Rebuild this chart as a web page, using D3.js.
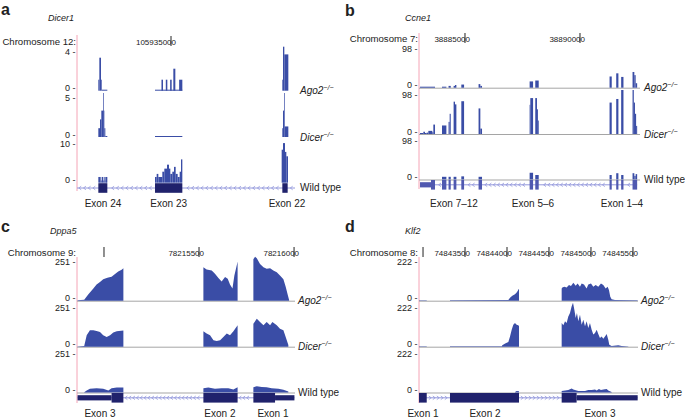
<!DOCTYPE html>
<html><head><meta charset="utf-8">
<script src="https://cdn.jsdelivr.net/npm/d3@7"></script>
<style>
body{margin:0;background:#fff}
svg{display:block}
text{font-family:"Liberation Sans",Arial,Helvetica,sans-serif;fill:#222}
</style>
</head><body>
<svg id="chart" width="685" height="419"></svg>
<script>
// ---------------- DATA ----------------
const sampleNames = ["Ago2", "Dicer", "Wild type"];

// Panel a: Dicer1 (chr12) — step coverage [start, end, value]
const dicer1Domain = [105933590, 105936860];
const dicer1Ticks = [105935000];
const dicer1TickLabels = ["105935000"];
const dicer1Max = [4, 5, 10];
const dicer1Ago2 = [[105933910,105933925,1],[105933925,105933950,3],[105933950,105933960,1],[105933960,105934045,0],
  [105934760,105935170,0],[105934857,105934880,1],[105934922,105934945,1],[105934987,105935010,1],[105935035,105935065,2],[105935122,105935170,1],
  [105936670,105936680,1],[105936680,105936700,4],[105936700,105936760,3.3]];
const dicer1Dicer = [[105933910,105933935,1],[105933935,105933955,2],[105933955,105933980,3],[105933980,105933985,5],[105933985,105934000,3],[105934000,105934015,1],[105934015,105934045,0],
  [105934760,105935170,0],
  [105936670,105936680,1],[105936680,105936695,3],[105936695,105936705,5],[105936705,105936760,1.2]];
const dicer1WT = [[105933910,105933945,1.3],[105933945,105933960,0.5],[105933960,105933985,1.3],[105933985,105934000,0.5],[105934000,105934020,1.3],[105934020,105934025,0.5],[105934025,105934045,1.3],
  [105934760,105934785,1.3],[105934785,105934810,2],[105934810,105934870,1.3],[105934870,105934900,2.5],[105934900,105934940,3.2],[105934940,105934970,4.1],[105934970,105934990,3.2],[105934990,105935020,2],[105935020,105935045,2.5],[105935045,105935070,3.6],[105935070,105935100,2],[105935100,105935130,1.3],[105935130,105935150,2.5],[105935150,105935170,5.3],
  [105936660,105936680,7.5],[105936680,105936710,9],[105936710,105936730,7],[105936730,105936755,6]];
const dicer1Exons = [[105933910,105934045],[105934760,105935170],[105936670,105936750]];
const dicer1Utr = [];
const dicer1Span = [105933500, 105937000];
const dicer1ExonNames = ["Exon 24", "Exon 23", "Exon 22"];
const dicer1ExonPos = [105933980, 105934965, 105936740];

// Panel b: Ccne1 (chr7) — step coverage
const ccne1Domain = [38883000, 38892609];
const ccne1Ticks = [38885000, 38890000];
const ccne1TickLabels = ["38885000", "38890000"];
const ccne1Max = [98, 98, 98];
const ccne1Ago2 = [[38883044,38883479,1],[38883479,38883696,2],[38884000,38884190,2],[38884285,38884380,4],[38884505,38884565,4],[38884565,38884625,6],
  [38884840,38884960,7],[38885590,38885667,8],[38885667,38885740,4],[38887810,38887960,14],[38888055,38888205,16],
  [38891285,38891380,25],[38891575,38891670,32],[38891790,38891890,24],[38892285,38892362,35],[38892362,38892420,28],[38892420,38892485,10]];
const ccne1Dicer = [[38883044,38883188,2],[38883188,38883261,5],[38883261,38883333,2],[38883333,38883406,3],[38883406,38883478,7],[38883478,38883580,7],[38883580,38883623,4],[38883623,38883696,21],
  [38884000,38884190,19],[38884285,38884333,27],[38884333,38884380,45],[38884505,38884565,72],[38884565,38884625,66],[38884840,38884960,73],
  [38885590,38885667,57],[38885667,38885740,12],[38887810,38887840,65],[38887840,38887960,80],[38888055,38888130,80],[38888130,38888170,55],[38888170,38888205,30],
  [38891285,38891380,70],[38891575,38891670,78],[38891790,38891890,98],[38892285,38892340,98],[38892340,38892390,70],[38892390,38892440,45],[38892440,38892485,18]];
const ccne1WT = [[38884000,38884190,6],[38884285,38884380,6],[38884505,38884625,6],[38884840,38884960,7],[38885590,38885740,6],[38887810,38887960,15],[38888055,38888205,10],
  [38891285,38891380,10],[38891575,38891670,14],[38891790,38891890,10],[38892285,38892362,14],[38892362,38892420,8],[38892420,38892485,12]];
const ccne1Exons = [[38883522,38883696],[38884000,38884190],[38884285,38884380],[38884505,38884625],[38884840,38884960],[38885590,38885740],
  [38887810,38887960],[38888055,38888205],[38891285,38891380],[38891575,38891670],[38891790,38891890],[38892285,38892485]];
const ccne1Utr = [[38883044,38883522]];
const ccne1Span = [38883044, 38892485];
const ccne1ExonNames = ["Exon 7\u201312", "Exon 5\u20136", "Exon 1\u20134"];
const ccne1ExonPos = [38884522, 38887957, 38891826];

// Panel c: Dppa5 (chr9) — profile coverage [position, value]
const dppa5Domain = [78214858, 78216005];
const dppa5Ticks = [78215000, 78215500, 78216000];
const dppa5TickLabels = ["", "78215500", "78216000"];
const dppa5Max = [251, 251, 251];
const dppa5Ago2 = [
  [[78214861,2],[78214896,6],[78214917,36],[78214944,69],[78214961,92],[78214979,107],[78214996,122],[78215014,129],[78215023,133],[78215040,137],[78215058,152],[78215075,167],[78215093,176],[78215102,185]],
  [[78215523,191],[78215540,178],[78215567,172],[78215584,154],[78215602,129],[78215619,110],[78215637,135],[78215651,125],[78215663,92],[78215676,69],[78215686,144],[78215698,200],[78215703,223]],
  [[78215786,237],[78215795,251],[78215804,242],[78215821,210],[78215839,191],[78215856,182],[78215874,185],[78215891,172],[78215909,163],[78215926,144],[78215944,122],[78215956,79],[78215967,32],[78215974,4]]];
const dppa5Dicer = [
  [[78214861,1],[78214896,4],[78214909,66],[78214926,94],[78214944,94],[78214961,90],[78214979,84],[78214996,66],[78215014,56],[78215032,66],[78215049,81],[78215067,88],[78215102,92]],
  [[78215523,88],[78215540,75],[78215558,66],[78215576,37],[78215593,32],[78215611,37],[78215628,56],[78215646,75],[78215663,66],[78215681,88],[78215703,122]],
  [[78215786,131],[78215804,159],[78215821,141],[78215839,122],[78215856,141],[78215874,122],[78215886,141],[78215909,122],[78215926,103],[78215944,94],[78215956,56],[78215970,9]]];
const dppa5WT = [
  [[78214896,2],[78214909,11],[78214926,21],[78214961,24],[78214996,21],[78215023,11],[78215040,24],[78215067,28],[78215102,28]],
  [[78215523,24],[78215549,28],[78215584,21],[78215619,24],[78215654,24],[78215681,17],[78215703,30]],
  [[78215786,30],[78215804,36],[78215830,32],[78215856,30],[78215882,24],[78215918,21],[78215944,15],[78215970,6]]];
const dppa5Exons = [[78215040,78215102],[78215523,78215703],[78215786,78215900]];
const dppa5Utr = [[78214861,78215040],[78215900,78216002]];
const dppa5Span = [78214861, 78216002];
const dppa5ExonNames = ["Exon 3", "Exon 2", "Exon 1"];
const dppa5ExonPos = [78214979, 78215610, 78215889];

// Panel d: Klf2 (chr8) — profile coverage
const klf2Domain = [74842952, 74845560];
const klf2Ticks = [74843000, 74843500, 74844000, 74844500, 74845000, 74845500];
const klf2TickLabels = ["", "74843500", "74844000", "74844500", "74845000", "74845500"];
const klf2Max = [222, 222, 222];
const klf2Ago2 = [
  [[74842952,2],[74843044,2]],
  [[74843321,2],[74844016,3],[74844036,15],[74844063,25],[74844095,32],[74844115,42],[74844127,49],[74844135,57],[74844143,59]],
  [[74844651,62],[74844659,66],[74844683,71],[74844710,67],[74844738,79],[74844762,74],[74844790,91],[74844818,76],[74844841,87],[74844869,71],[74844889,87],[74844917,82],[74844948,62],[74844968,82],[74845000,87],[74845028,71],[74845056,79],[74845087,71],[74845119,87],[74845147,79],[74845175,62],[74845198,71],[74845214,54],[74845230,20],[74845246,7],[74845286,3],[74845556,2]]];
const klf2Dicer = [
  [[74842952,2],[74843044,2]],
  [[74843321,2],[74843937,2],[74843944,7],[74843968,13],[74843984,17],[74844016,24],[74844036,52],[74844056,86],[74844075,111],[74844095,119],[74844115,111],[74844135,108],[74844143,103]],
  [[74844651,119],[74844671,108],[74844691,128],[74844710,119],[74844730,153],[74844750,170],[74844770,204],[74844786,222],[74844802,187],[74844818,145],[74844833,170],[74844849,128],[74844869,161],[74844889,111],[74844909,136],[74844929,103],[74844948,128],[74844968,94],[74844988,119],[74845008,86],[74845028,61],[74845048,69],[74845068,86],[74845087,64],[74845107,44],[74845127,52],[74845147,40],[74845167,52],[74845187,64],[74845206,35],[74845218,10],[74845246,3],[74845325,7],[74845365,3],[74845445,1]]];
const klf2WT = [
  [[74844095,3],[74844115,8],[74844143,6]],
  [[74844651,7],[74844691,10],[74844730,13],[74844770,20],[74844790,15],[74844829,10],[74844849,7],[74844889,8],[74844929,7],[74844968,13],[74845008,12],[74845048,15],[74845068,10],[74845095,18],[74845119,12],[74845147,15],[74845187,18],[74845206,10],[74845246,3]]];
const klf2Exons = [[74842952,74843044],[74843321,74844143],[74844651,74844829]];
const klf2Utr = [[74844829,74845556]];
const klf2Span = [74842952, 74845556];
const klf2ExonNames = ["Exon 1", "Exon 2", "Exon 3"];
const klf2ExonPos = [74843000, 74843738, 74845107];

// ---------------- LAYOUT / STYLE ----------------
const COV = "#3a4da6", NAVY = "#20226c", INTRON = "#9398dc", GRID = "#a5a5a5", PINK = "#f5a4b6";
const TRACK_H = 44;

const panels = [
  {letter:"a", gene:"Dicer1", chrom:"Chromosome 12:", kind:"step", strand:-1,
   domain:dicer1Domain, ticks:dicer1Ticks, tickLabels:dicer1TickLabels, maxes:dicer1Max,
   tracks:[dicer1Ago2, dicer1Dicer, dicer1WT], exons:dicer1Exons, utr:dicer1Utr, span:dicer1Span,
   exonNames:dicer1ExonNames, exonPos:dicer1ExonPos,
   L:{x0:77, x1:295, base:[90.7,137,182.7], pink:[35,191], letter:[1,14.5], geneXY:[48,21], chromY:45,
      labX:300, wtDy:8.5, exonY:207, grid:false, geneCol:NAVY, arrowStep:4.7}},
  {letter:"b", gene:"Ccne1", chrom:"Chromosome 7:", kind:"step", strand:-1,
   domain:ccne1Domain, ticks:ccne1Ticks, tickLabels:ccne1TickLabels, maxes:ccne1Max,
   tracks:[ccne1Ago2, ccne1Dicer, ccne1WT], exons:ccne1Exons, utr:ccne1Utr, span:ccne1Span,
   exonNames:ccne1ExonNames, exonPos:ccne1ExonPos,
   L:{x0:419, x1:640, base:[87.7,134,179.5], pink:[33,189], letter:[345,15.5], geneXY:[405,21], chromY:42,
      labX:644, wtDy:3.5, exonY:206.5, grid:true, geneCol:"#5059b0", arrowStep:4.2}},
  {letter:"c", gene:"Dppa5", chrom:"Chromosome 9:", kind:"area", strand:-1,
   domain:dppa5Domain, ticks:dppa5Ticks, tickLabels:dppa5TickLabels, maxes:dppa5Max,
   tracks:[dppa5Ago2, dppa5Dicer, dppa5WT], exons:dppa5Exons, utr:dppa5Utr, span:dppa5Span,
   exonNames:dppa5ExonNames, exonPos:dppa5ExonPos,
   L:{x0:77, x1:295, base:[300.7,346.7,392.5], pink:[257,403], letter:[1,232], geneXY:[50,234], chromY:256,
      labX:298, wtDy:3.5, exonY:417, grid:true, geneCol:NAVY, arrowStep:3.8}},
  {letter:"d", gene:"Klf2", chrom:"Chromosome 8:", kind:"area", strand:1,
   domain:klf2Domain, ticks:klf2Ticks, tickLabels:klf2TickLabels, maxes:klf2Max,
   tracks:[klf2Ago2, klf2Dicer, klf2WT], exons:klf2Exons, utr:klf2Utr, span:klf2Span,
   exonNames:klf2ExonNames, exonPos:klf2ExonPos,
   L:{x0:419, x1:638, base:[300.7,346.7,392.5], pink:[257,403], letter:[345,232], geneXY:[405,234], chromY:256,
      labX:641, wtDy:3.5, exonY:417, grid:true, geneCol:NAVY, arrowStep:4}}
];

const svg = d3.select("#chart");
svg.append("rect").attr("width",685).attr("height",419).attr("fill","#fff");

panels.forEach(p => {
  const L = p.L;
  const g = svg.append("g");
  const xs = d3.scaleLinear().domain(p.domain).range([L.x0, L.x1]).clamp(true);

  // panel letter and gene name
  g.append("text").attr("x", L.letter[0]).attr("y", L.letter[1]).attr("font-size", 16).attr("font-weight", "bold").text(p.letter);
  g.append("text").attr("x", L.geneXY[0]).attr("y", L.geneXY[1]).attr("font-size", 9).attr("font-style", "italic").text(p.gene);

  // base position ruler
  g.append("text").attr("x", L.x0 - 1).attr("y", L.chromY).attr("font-size", 9.6).attr("text-anchor", "end").text(p.chrom);
  p.ticks.forEach((t, i) => {
    const tx = xs(t);
    g.append("line").attr("x1", tx).attr("x2", tx).attr("y1", L.chromY - 9).attr("y2", L.chromY + 1)
      .attr("stroke", "#222").attr("stroke-width", 1);
    if (p.tickLabels[i]) g.append("text").attr("x", tx + 5).attr("y", L.chromY).attr("font-size", 8)
      .attr("text-anchor", "end").text(p.tickLabels[i]);
  });

  // pink left border
  g.append("line").attr("x1", L.x0).attr("x2", L.x0).attr("y1", L.pink[0]).attr("y2", L.pink[1])
    .attr("stroke", PINK).attr("stroke-width", 1);

  p.tracks.forEach((tr, i) => {
    const base = L.base[i];
    const ys = d3.scaleLinear().domain([0, p.maxes[i]]).range([base, base - TRACK_H]).clamp(true);
    if (L.grid) {
      g.append("line").attr("x1", L.x0).attr("x2", L.x1).attr("y1", base + 0.5).attr("y2", base + 0.5)
        .attr("stroke", GRID).attr("stroke-width", 1);
    }
    if (p.kind === "step") {
      g.append("g").selectAll("rect").data(tr).join("rect")
        .attr("x", d => xs(d[0]))
        .attr("width", d => Math.max(xs(d[1]) - xs(d[0]), 0.7))
        .attr("y", d => Math.min(ys(d[2]), base - 1))
        .attr("height", d => Math.max(base - ys(d[2]), 1))
        .attr("fill", COV);
    } else {
      const area = d3.area().x(d => xs(d[0])).y0(base).y1(d => ys(d[1]));
      g.append("g").selectAll("path").data(tr).join("path").attr("d", area).attr("fill", COV);
    }
    // y labels
    g.append("text").attr("x", L.x0 - 1.5).attr("y", ys(p.maxes[i]) + 8).attr("font-size", 9)
      .attr("text-anchor", "end").text(p.maxes[i] + " -");
    g.append("text").attr("x", L.x0 - 1.5).attr("y", base + 0.5).attr("font-size", 9)
      .attr("text-anchor", "end").text("0 -");
    // sample labels
    if (i < 2) {
      const t = g.append("text").attr("x", L.labX).attr("y", base + 3.5).attr("font-size", 10).attr("font-style", "italic");
      t.append("tspan").text(sampleNames[i]);
      t.append("tspan").attr("dy", -4).attr("font-size", 7).text("\u2212/\u2212");
    } else {
      g.append("text").attr("x", L.labX).attr("y", base + L.wtDy).attr("font-size", 10).text(sampleNames[i]);
    }
  });

  // gene model
  const wtBase = L.base[2];
  const cy = wtBase + 5.3;
  const sx0 = xs(p.span[0]), sx1 = xs(p.span[1]);
  g.append("line").attr("x1", sx0).attr("x2", sx1).attr("y1", cy).attr("y2", cy)
    .attr("stroke", INTRON).attr("stroke-width", 1);
  const blocks = p.exons.concat(p.utr).map(b => [xs(b[0]), xs(b[1])]);
  const arrowXs = d3.range(sx0 + 3, sx1 - 2, L.arrowStep)
    .filter(x => !blocks.some(b => x > b[0] - 2 && x < b[1] + 2));
  const s = p.strand;
  g.append("g").selectAll("path").data(arrowXs).join("path")
    .attr("d", x => `M${x - 1.2 * s},${cy - 1.8}L${x + 1.2 * s},${cy}L${x - 1.2 * s},${cy + 1.8}`)
    .attr("fill", "none").attr("stroke", INTRON).attr("stroke-width", 0.8);
  g.append("g").selectAll("rect").data(p.utr).join("rect")
    .attr("x", d => xs(d[0])).attr("width", d => xs(d[1]) - xs(d[0]))
    .attr("y", cy - 2.6).attr("height", 5.2).attr("fill", L.geneCol);
  g.append("g").selectAll("rect").data(p.exons).join("rect")
    .attr("x", d => xs(d[0])).attr("width", d => Math.max(xs(d[1]) - xs(d[0]), 1))
    .attr("y", cy - 4.8).attr("height", 9.6).attr("fill", L.geneCol);

  // exon labels
  p.exonNames.forEach((n, i) => {
    g.append("text").attr("x", xs(p.exonPos[i])).attr("y", L.exonY).attr("font-size", 10)
      .attr("text-anchor", "middle").text(n);
  });
});
</script>
</body></html>
